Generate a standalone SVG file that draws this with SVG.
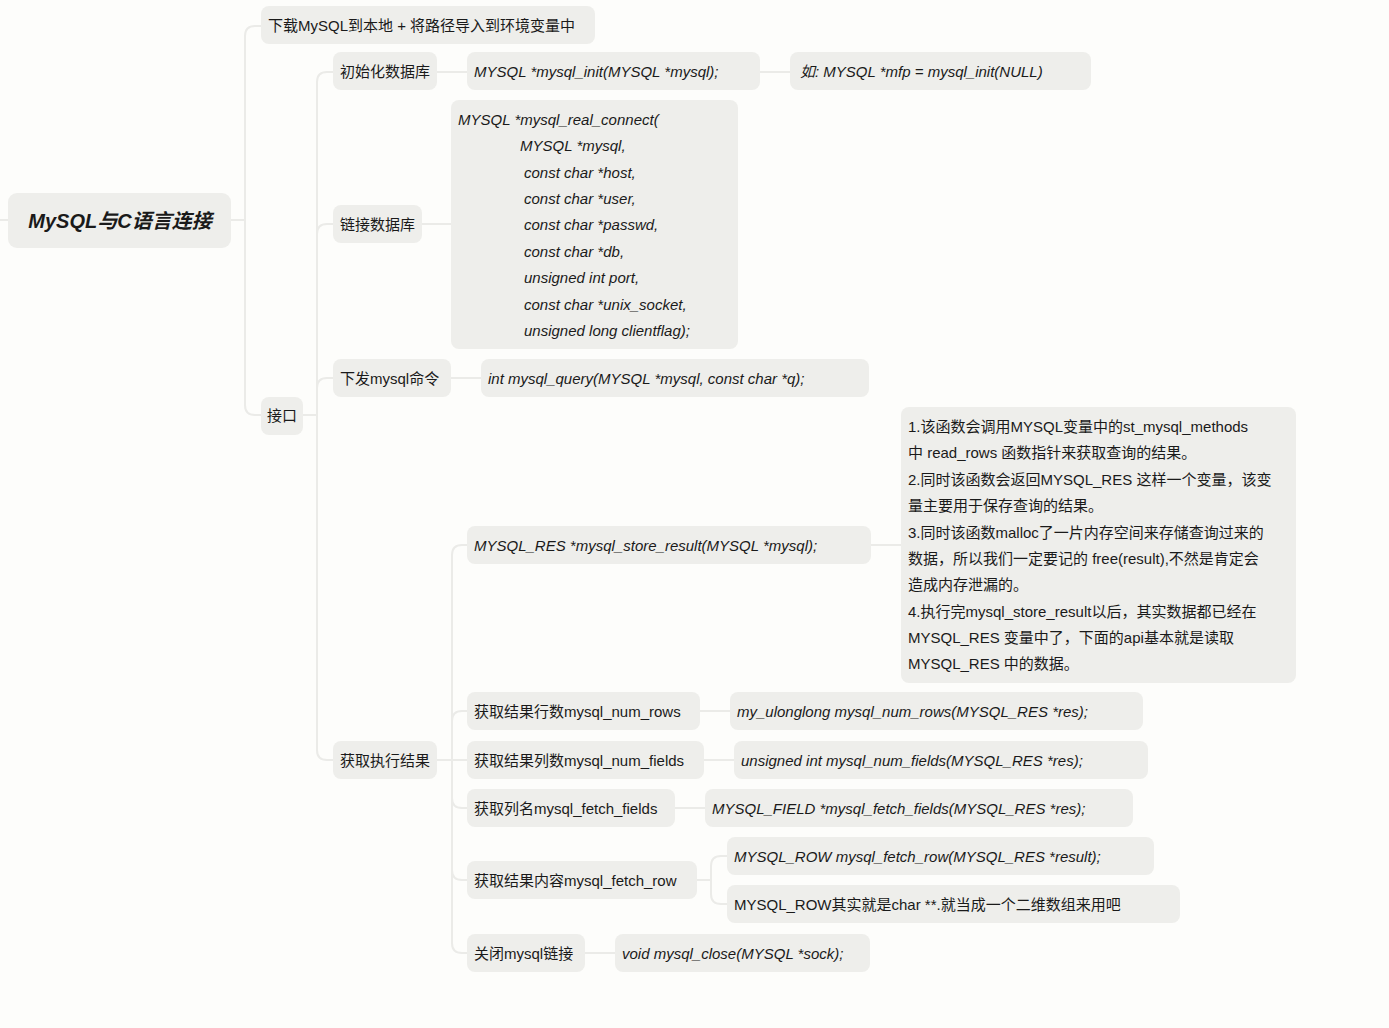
<svg xmlns="http://www.w3.org/2000/svg" width="1389" height="1028" viewBox="0 0 1389 1028">
<style>
.n{fill:#eeeeeb}
text{font-family:"Liberation Sans","Noto Sans CJK SC",sans-serif;font-size:15px;fill:#1a1a1a;dominant-baseline:central}
.c path{fill:none;stroke:#ebebe8;stroke-width:2}
</style>
<rect width="1389" height="1028" fill="#fdfdfb"/>
<g class="c" id="connectors">
<path d="M0,220H8"/>
<path d="M231,220H245"/>
<path d="M245,220V36Q245,26 255,26H261"/>
<path d="M245,220V405Q245,415 255,415H261"/>
<path d="M303,415H317"/>
<path d="M317,415V82Q317,72 327,72H333"/>
<path d="M317,415V234Q317,224 327,224H333"/>
<path d="M317,415V388Q317,378 327,378H333"/>
<path d="M317,415V750Q317,760 327,760H333"/>
<path d="M437,72H467M760,72H790"/>
<path d="M422,224H451"/>
<path d="M451,378H481"/>
<path d="M437,760H452"/>
<path d="M452,760V555Q452,545 462,545H467"/>
<path d="M452,760V721Q452,711 462,711H467"/>
<path d="M452,760H467"/>
<path d="M452,760V798Q452,808 462,808H467"/>
<path d="M452,760V870Q452,880 462,880H467"/>
<path d="M452,760V943Q452,953 462,953H467"/>
<path d="M871,545H901"/>
<path d="M700,711H730M704,760H734M675,808H705M585,953H615"/>
<path d="M697,880H711"/>
<path d="M711,880V866Q711,856 721,856H727"/>
<path d="M711,880V894Q711,904 721,904H727"/>
</g>
<g id="root"><rect class="n" x="8" y="193" width="223" height="55" rx="9"/><text x="120" y="221" text-anchor="middle" style="font-size:20px;font-weight:bold;font-style:italic">MySQL与C语言连接</text></g>
<g id="download"><rect class="n" x="261" y="6" width="334" height="38" rx="8"/><text x="268" y="25">下载MySQL到本地 + 将路径导入到环境变量中</text></g>
<g id="iface"><rect class="n" x="261" y="397" width="42" height="38" rx="8"/><text x="267" y="415">接口</text></g>
<g id="init"><rect class="n" x="333" y="52" width="104" height="38" rx="8"/><text x="340" y="71">初始化数据库</text></g>
<g id="initfn"><rect class="n" x="467" y="52" width="293" height="38" rx="8"/><text x="474" y="71" font-style="italic">MYSQL *mysql_init(MYSQL *mysql);</text></g>
<g id="initex"><rect class="n" x="790" y="52" width="301" height="38" rx="8"/><text x="800" y="71" font-style="italic">如: MYSQL *mfp = mysql_init(NULL)</text></g>
<g id="conn"><rect class="n" x="333" y="205" width="89" height="38" rx="8"/><text x="340" y="224">链接数据库</text></g>
<g id="connfn"><rect class="n" x="451" y="100" width="287" height="249" rx="8"/>
<text x="458" y="119" font-style="italic">MYSQL *mysql_real_connect(</text>
<text x="520" y="145" font-style="italic">MYSQL *mysql,</text>
<text x="524" y="172" font-style="italic">const char *host,</text>
<text x="524" y="198" font-style="italic">const char *user,</text>
<text x="524" y="224" font-style="italic">const char *passwd,</text>
<text x="524" y="251" font-style="italic">const char *db,</text>
<text x="524" y="277" font-style="italic">unsigned int port,</text>
<text x="524" y="304" font-style="italic">const char *unix_socket,</text>
<text x="524" y="330" font-style="italic">unsigned long clientflag);</text></g>
<g id="query"><rect class="n" x="333" y="359" width="118" height="38" rx="8"/><text x="340" y="378">下发mysql命令</text></g>
<g id="queryfn"><rect class="n" x="481" y="359" width="388" height="38" rx="8"/><text x="488" y="378" font-style="italic">int mysql_query(MYSQL *mysql, const char *q);</text></g>
<g id="result"><rect class="n" x="333" y="741" width="104" height="38" rx="8"/><text x="340" y="760">获取执行结果</text></g>
<g id="store"><rect class="n" x="467" y="526" width="404" height="38" rx="8"/><text x="474" y="545" font-style="italic">MYSQL_RES *mysql_store_result(MYSQL *mysql);</text></g>
<g id="note"><rect class="n" x="901" y="407" width="395" height="276" rx="8"/>
<text x="908" y="426">1.该函数会调用MYSQL变量中的st_mysql_methods</text>
<text x="908" y="452">中 read_rows 函数指针来获取查询的结果。</text>
<text x="908" y="479">2.同时该函数会返回MYSQL_RES 这样一个变量，该变</text>
<text x="908" y="505">量主要用于保存查询的结果。</text>
<text x="908" y="532">3.同时该函数malloc了一片内存空间来存储查询过来的</text>
<text x="908" y="558">数据，所以我们一定要记的 free(result),不然是肯定会</text>
<text x="908" y="584">造成内存泄漏的。</text>
<text x="908" y="611">4.执行完mysql_store_result以后，其实数据都已经在</text>
<text x="908" y="637">MYSQL_RES 变量中了，下面的api基本就是读取</text>
<text x="908" y="663">MYSQL_RES 中的数据。</text></g>
<g id="rows"><rect class="n" x="467" y="692" width="233" height="38" rx="8"/><text x="474" y="711">获取结果行数mysql_num_rows</text></g>
<g id="rowsfn"><rect class="n" x="730" y="692" width="413" height="38" rx="8"/><text x="737" y="711" font-style="italic">my_ulonglong mysql_num_rows(MYSQL_RES *res);</text></g>
<g id="fields"><rect class="n" x="467" y="741" width="237" height="38" rx="8"/><text x="474" y="760">获取结果列数mysql_num_fields</text></g>
<g id="fieldsfn"><rect class="n" x="734" y="741" width="414" height="38" rx="8"/><text x="741" y="760" font-style="italic">unsigned int mysql_num_fields(MYSQL_RES *res);</text></g>
<g id="fetchf"><rect class="n" x="467" y="789" width="208" height="38" rx="8"/><text x="474" y="808">获取列名mysql_fetch_fields</text></g>
<g id="fetchffn"><rect class="n" x="705" y="789" width="428" height="38" rx="8"/><text x="712" y="808" font-style="italic">MYSQL_FIELD *mysql_fetch_fields(MYSQL_RES *res);</text></g>
<g id="fetchr"><rect class="n" x="467" y="861" width="230" height="38" rx="8"/><text x="474" y="880">获取结果内容mysql_fetch_row</text></g>
<g id="fetchrfn"><rect class="n" x="727" y="837" width="427" height="38" rx="8"/><text x="734" y="856" font-style="italic">MYSQL_ROW mysql_fetch_row(MYSQL_RES *result);</text></g>
<g id="fetchrnote"><rect class="n" x="727" y="885" width="453" height="38" rx="8"/><text x="734" y="904">MYSQL_ROW其实就是char **.就当成一个二维数组来用吧</text></g>
<g id="close"><rect class="n" x="467" y="934" width="118" height="38" rx="8"/><text x="474" y="953">关闭mysql链接</text></g>
<g id="closefn"><rect class="n" x="615" y="934" width="255" height="38" rx="8"/><text x="622" y="953" font-style="italic">void mysql_close(MYSQL *sock);</text></g>
</svg>
